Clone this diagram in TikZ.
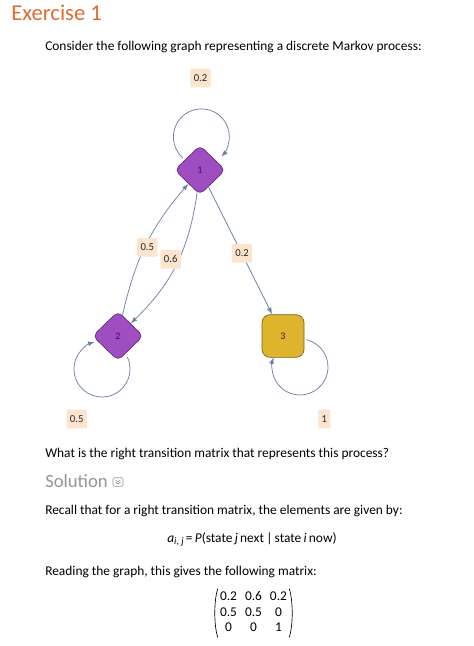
\documentclass[tikz,border=0pt]{standalone}
\usepackage{fontspec}
\setmainfont{Carlito}
\usetikzlibrary{shapes.geometric,arrows.meta}
\definecolor{exorange}{RGB}{221,110,50}
\definecolor{nodepurple}{RGB}{158,78,192}
\definecolor{purpleborder}{RGB}{100,40,125}
\definecolor{nodegold}{RGB}{222,180,45}
\definecolor{goldborder}{RGB}{120,98,35}
\definecolor{edgeblue}{RGB}{110,130,165}
\definecolor{labelbg}{RGB}{252,228,205}
\definecolor{solgray}{RGB}{150,150,150}
\newcommand{\bodyfont}{\fontsize{10.05}{12}\selectfont}
\begin{document}
\begin{tikzpicture}[x=0.75pt,y=0.75pt,
  txt/.style={anchor=base west, inner sep=0pt, font=\bodyfont},
  statediamond/.style={diamond, fill=nodepurple, draw=purpleborder, line width=0.5pt,
    rounded corners=4pt, minimum width=38pt, minimum height=37pt, inner sep=0pt,
    font=\fontsize{7.5}{8}\selectfont, text=purpleborder!55!black},
  statesquare/.style={rectangle, fill=nodegold, draw=goldborder, line width=0.5pt,
    rounded corners=6pt, minimum width=31.5pt, minimum height=32pt, inner sep=0pt,
    font=\fontsize{7.5}{8}\selectfont, text=black!85},
  edge/.style={draw=edgeblue, line width=0.55pt, -{Latex[length=5pt,width=3.6pt]}},
  lbl/.style={fill=labelbg, font=\fontsize{8}{9}\selectfont, text=black!85,
    inner xsep=2.5pt, inner ysep=0pt, minimum height=14pt, rounded corners=0.8pt}
]
\useasboundingbox[fill=white] (0,0) rectangle (474,-646);

% texts
\node[txt, font=\fontsize{17}{20}\selectfont, text=exorange] (title) at (11,-21) {Exercise 1};
\node[txt] (q1) at (45,-50) {Consider the following graph representing a discrete Markov process:};

% graph nodes
\node[statediamond] (n1) at (200,-170) {1};
\node[statediamond] (n2) at (118,-336) {2};
\node[statesquare] (n3) at (283,-336) {3};

% edges
\draw[edge] (n1) ++(-17,12) arc[start angle=229, end angle=-45, radius=28];
\draw[edge] (n2) to[bend left=14] (n1);
\draw[edge] (n1) to[bend left=19] (n2);
\draw[edge] (n1) -- (n3);
\draw[edge] (n2) ++(9.4,-21.2) arc[start angle=25, end angle=-255, radius=28];
\draw[edge] (n3) ++(23.3,-3.7) arc[start angle=77, end angle=-200, radius=28];

% labels
\node[lbl] (l1) at (200.5,-78) {0.2};
\node[lbl] (l2) at (147.3,-247.3) {0.5};
\node[lbl] (l3) at (170.7,-259.3) {0.6};
\node[lbl] (l4) at (242,-253.3) {0.2};
\node[lbl] (l5) at (76.7,-419) {0.5};
\node[lbl] (l6) at (324.3,-419) {1};

% lower texts
\node[txt] (q2) at (45,-457) {What is the right transition matrix that represents this process?};
\node[txt, font=\fontsize{14}{16}\selectfont, text=solgray] (sol) at (45,-487) {Solution};
\node[draw=solgray, line width=0.5pt, rounded corners=1pt, minimum width=7.5pt, minimum height=6.5pt, inner sep=0pt] (icon) at (118,-482) {};
\draw[solgray, line width=0.5pt] ([xshift=-1.8pt,yshift=1.4pt]icon.center) -- ([yshift=0.2pt]icon.center) -- ([xshift=1.8pt,yshift=1.4pt]icon.center);
\draw[solgray, line width=0.5pt] ([xshift=-1.8pt,yshift=-0.2pt]icon.center) -- ([yshift=-1.4pt]icon.center) -- ([xshift=1.8pt,yshift=-0.2pt]icon.center);
\node[txt] (q3) at (45,-514) {Recall that for a right transition matrix, the elements are given by:};
\node[anchor=base, inner sep=0pt, font=\bodyfont] (formula) at (252,-542)
  {\textit{a}\raisebox{-0.45ex}{\fontsize{7.5}{8}\selectfont\textit{i}, \textit{j}}\,=\,\textit{P}(state\,\textit{j}\,next\,|\,state\,\textit{i}\,now)};
\node[txt] (q4) at (45,-575) {Reading the graph, this gives the following matrix:};

\node[inner xsep=1.5pt, inner ysep=1pt, font=\bodyfont] (mat) at (253.5,-613)
  {\renewcommand{\arraystretch}{0.95}\begin{tabular}{@{}c@{\hspace{6pt}}c@{\hspace{6pt}}c@{}}0.2 & 0.6 & 0.2\\ 0.5 & 0.5 & 0\\ 0 & 0 & 1\end{tabular}};
\draw[line width=0.5pt] (mat.north west) .. controls +(-4,-12) and +(-4,12) .. (mat.south west);
\draw[line width=0.5pt] (mat.north east) .. controls +(4,-12) and +(4,12) .. (mat.south east);
\end{tikzpicture}
\end{document}
